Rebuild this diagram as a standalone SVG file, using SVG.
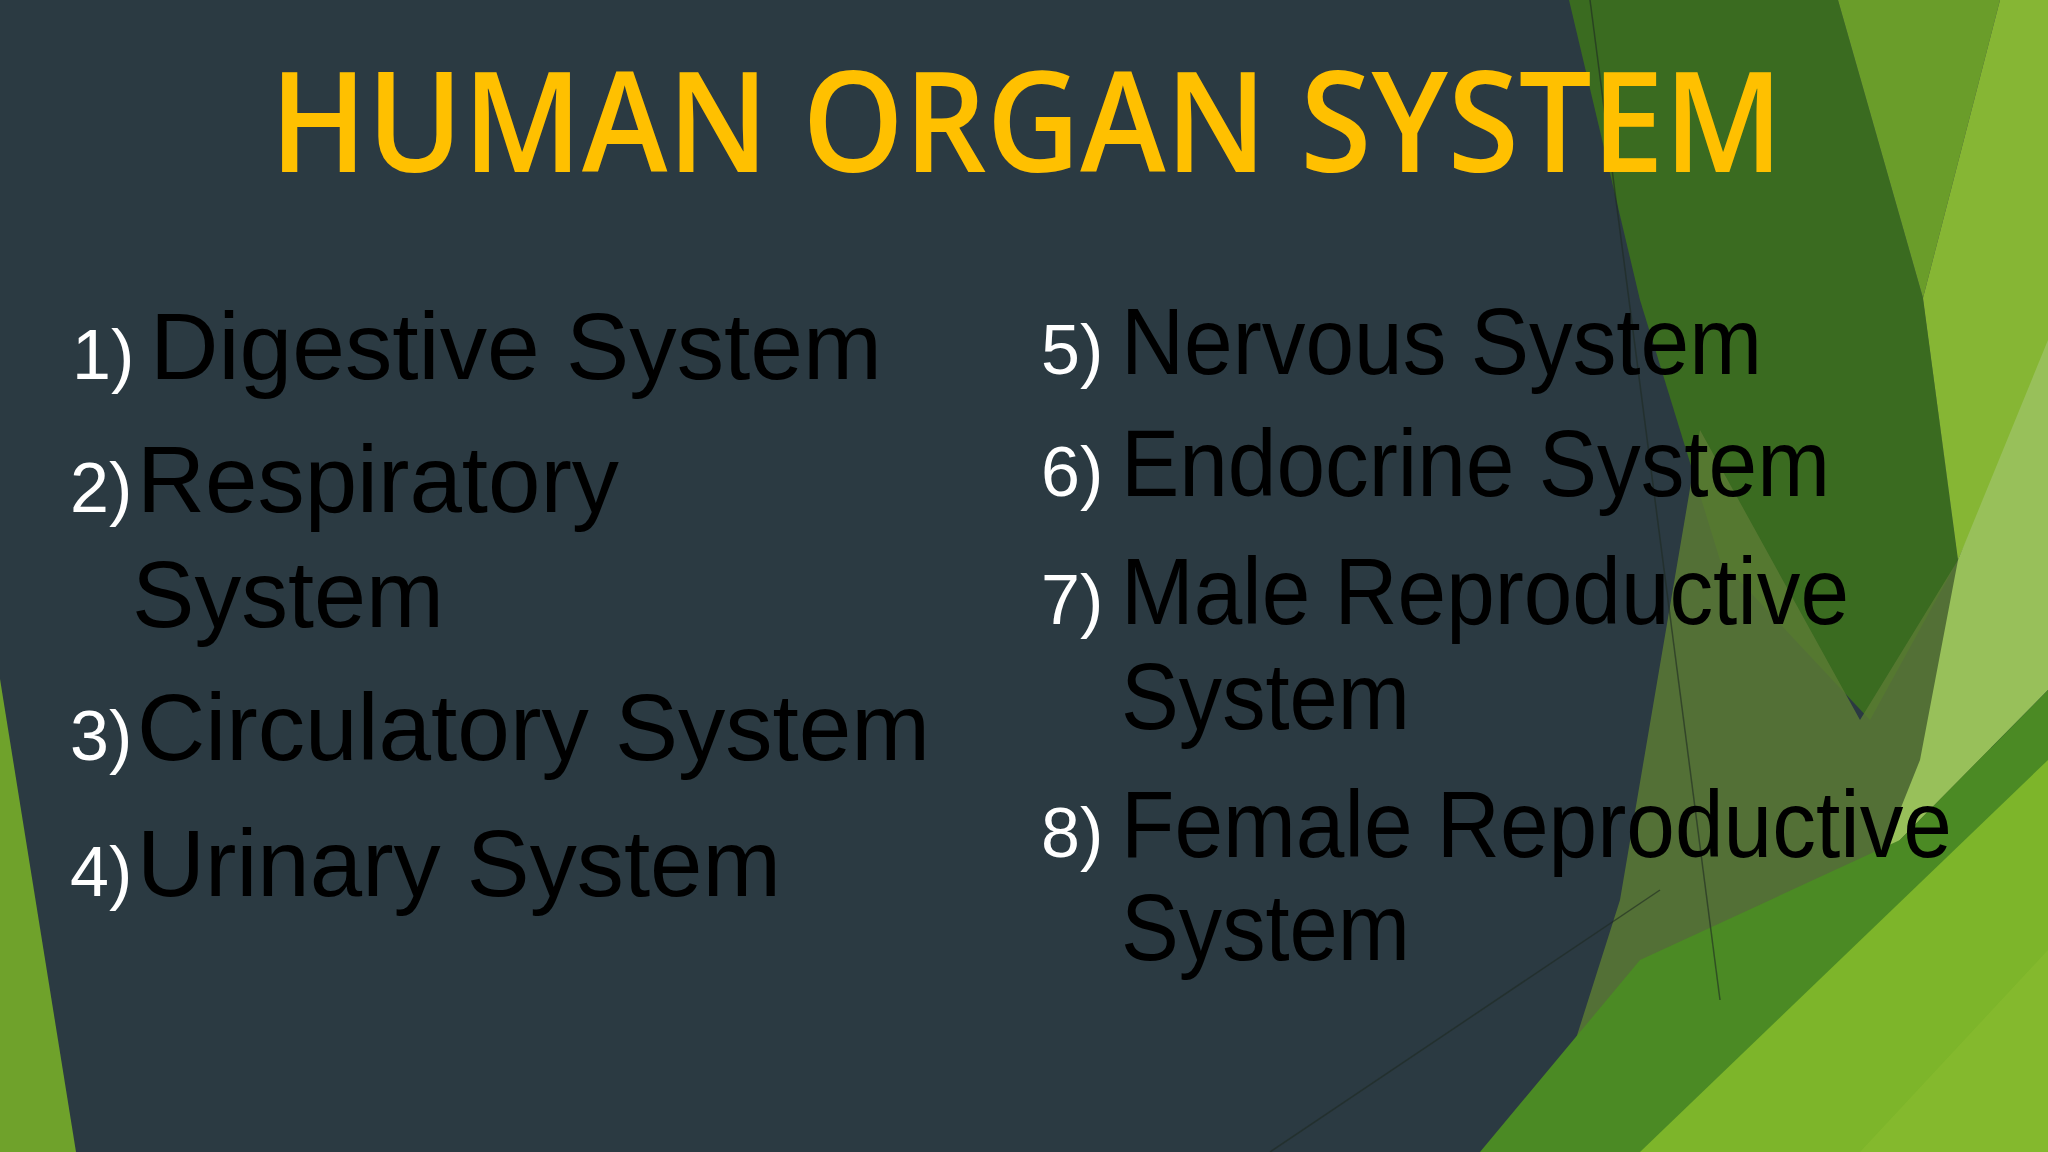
<svg xmlns="http://www.w3.org/2000/svg" width="2048" height="1152" viewBox="0 0 2048 1152">
<style>
.t{font-family:"Liberation Sans",Arial,sans-serif;font-size:94px;fill:#000}
.n{font-family:"Liberation Sans",Arial,sans-serif;font-size:70px;fill:#fff}
</style>
<rect width="2048" height="1152" fill="#2B3A42"/>
<g id="bg-shapes">
<polygon points="0,679 76,1152 0,1152" fill="#6FA22B"/>
<polygon points="1569,0 1838,0 1923,298 1958,560 1870,720 1720,560 1640,300" fill="#3A6B20"/>
<polygon points="1838,0 2000,0 1923,298" fill="#6A9D2A"/>
<polygon points="2000,0 2048,0 2048,360 1958,560 1923,298" fill="#86B634"/>
<polygon points="1700,430 1860,720 1958,560 2000,800 1580,1152 1540,1152 1620,900" fill="#5B7A34" opacity="0.85"/>
<polygon points="1958,560 2048,340 2048,690 1880,860 1920,760" fill="#98C05A"/>
<polygon points="1480,1152 1640,960 1900,840 2048,690 2048,1152" fill="#4B8A24"/>
<polygon points="1640,1152 2048,760 2048,1152" fill="#7DB52A"/>
<polygon points="1860,1152 2048,950 2048,1152" fill="#86BA2E" opacity="0.8"/>
<line x1="1590" y1="0" x2="1720" y2="1000" stroke="#1E2A22" stroke-width="1.5" opacity="0.6"/>
<line x1="1270" y1="1152" x2="1660" y2="890" stroke="#1E2A22" stroke-width="1.5" opacity="0.6"/>
</g>
<g id="title">
<text x="270" y="172" textLength="1513" lengthAdjust="spacingAndGlyphs" font-family="'Open Sans','DejaVu Sans',sans-serif" font-weight="600" font-size="140" fill="#FFC000">HUMAN ORGAN SYSTEM</text>
</g>
<g id="item1"><text class="n" x="72" y="379">1)</text><text class="t" x="150" y="379" textLength="732" lengthAdjust="spacingAndGlyphs">Digestive System</text></g>
<g id="item2"><text class="n" x="70" y="512">2)</text><text class="t" x="137" y="512" textLength="482" lengthAdjust="spacingAndGlyphs">Respiratory</text><text class="t" x="132" y="627" textLength="312" lengthAdjust="spacingAndGlyphs">System</text></g>
<g id="item3"><text class="n" x="70" y="760">3)</text><text class="t" x="137" y="760" textLength="793" lengthAdjust="spacingAndGlyphs">Circulatory System</text></g>
<g id="item4"><text class="n" x="70" y="896">4)</text><text class="t" x="137" y="896" textLength="644" lengthAdjust="spacingAndGlyphs">Urinary System</text></g>
<g id="item5"><text class="n" x="1041" y="374">5)</text><text class="t" x="1121" y="374" textLength="641" lengthAdjust="spacingAndGlyphs">Nervous System</text></g>
<g id="item6"><text class="n" x="1041" y="496">6)</text><text class="t" x="1121" y="496" textLength="709" lengthAdjust="spacingAndGlyphs">Endocrine System</text></g>
<g id="item7"><text class="n" x="1041" y="624">7)</text><text class="t" x="1121" y="624" textLength="728" lengthAdjust="spacingAndGlyphs">Male Reproductive</text><text class="t" x="1121" y="729" textLength="289" lengthAdjust="spacingAndGlyphs">System</text></g>
<g id="item8"><text class="n" x="1041" y="857">8)</text><text class="t" x="1121" y="857" textLength="831" lengthAdjust="spacingAndGlyphs">Female Reproductive</text><text class="t" x="1121" y="960" textLength="289" lengthAdjust="spacingAndGlyphs">System</text></g>
</svg>
